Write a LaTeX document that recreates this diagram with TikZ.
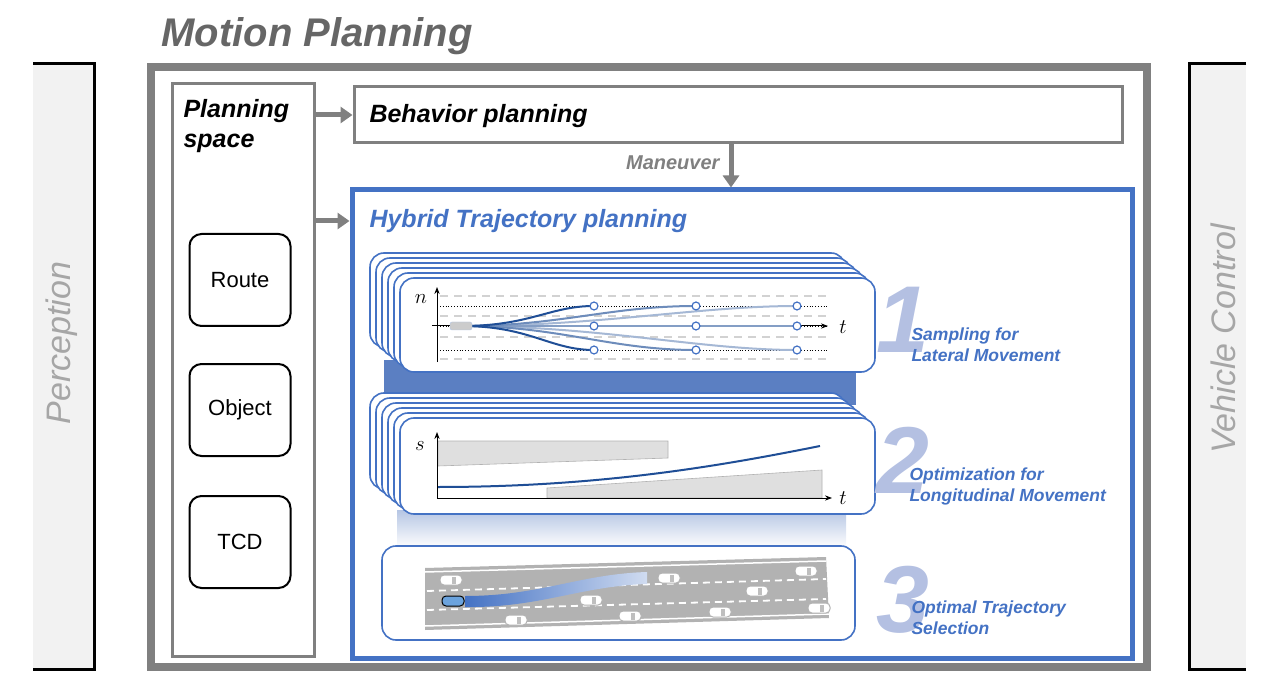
\documentclass[tikz,border=0pt]{standalone}
\usepackage{fontspec}
\setmainfont{Liberation Sans}
\usetikzlibrary{arrows.meta}
\definecolor{mpgray}{HTML}{808080}
\definecolor{hblue}{HTML}{4472C4}
\definecolor{dblue}{HTML}{1F4E96}
\definecolor{numblue}{HTML}{B4C0E2}
\definecolor{bandblue}{HTML}{5B7FC2}
\tikzset{
  grayarrow/.style={mpgray, line width=5pt, -{Triangle[length=12pt,width=16pt]}},
  itemnode/.style={draw, line width=2pt, rounded corners=12pt, minimum width=101pt, minimum height=92pt, font=\fontsize{22}{24}\selectfont},
  panel/.style={draw=hblue, line width=1.6pt, fill=white, rounded corners=14pt},
  steplabel/.style={text=hblue, font=\fontsize{17.5}{21}\selectfont\bfseries\itshape, align=left, anchor=west},
  stepnum/.style={text=numblue, font=\fontsize{95}{95}\selectfont\bfseries\itshape},
  sidelabel/.style={rotate=90, text=gray!70, font=\fontsize{34}{36}\selectfont\itshape},
  gridline/.style={gray!35, dashed, line width=1.5pt, dash pattern=on 8pt off 6pt},
  laneline/.style={black, dotted, line width=0.8pt},
  traj/.style={line width=2pt, dblue},
  knot/.style={circle, draw=hblue, fill=white, line width=1.2pt, inner sep=2.8pt},
}
\newcommand\roadcar[2]{\draw[fill=white, draw=gray!60, line width=1pt, rounded corners=4pt] (#1-11,#2-5) rectangle (#1+11,#2+5);
  \fill[gray!50] (#1+1,#2-3.5) rectangle (#1+5,#2+3.5);}
\begin{document}
\begin{tikzpicture}[x=1pt, y=-1pt]
  \useasboundingbox (0,0) rectangle (1271,692);

  % side blocks
  \fill[gray!10] (33,64) rectangle (94,669);
  \draw[line width=3pt] (33,64) -- (94,64) -- (94,669) -- (33,669);
  \node[sidelabel] (perc) at (62,343) {Perception};
  \fill[gray!10] (1189,64) rectangle (1246,669);
  \draw[line width=3pt] (1246,64) -- (1189,64) -- (1189,669) -- (1246,669);
  \node[sidelabel] (vc) at (1223,339) {Vehicle Control};

  % motion planning frame
  \node[text=gray!80!black, font=\fontsize{40}{42}\selectfont\bfseries\itshape, anchor=west] (title) at (158,36) {Motion Planning};
  \draw[mpgray, line width=8pt] (151,67) rectangle (1147,667);

  % planning space
  \node[draw=mpgray, line width=3pt, minimum width=142pt, minimum height=572pt] (ps) at (243,370) {};
  \node[font=\fontsize{25}{30}\selectfont\bfseries\itshape, align=left, anchor=north west] (pstext) at (180,96) {Planning\\space};
  \node[itemnode] (route) at (240,280) {Route};
  \node[itemnode] (obj) at (240,410) {Object};
  \node[itemnode] (tcd) at (240,542) {TCD};

  % behavior planning
  \node[draw=mpgray, line width=3pt, minimum width=768pt, minimum height=56pt] (beh) at (738,115) {};
  \node[font=\fontsize{25}{28}\selectfont\bfseries\itshape, anchor=west] (behtext) at (366,116) {Behavior planning};

  % hybrid trajectory planning
  \node[draw=hblue, line width=5pt, minimum width=780pt, minimum height=468pt] (hyb) at (742,424) {};
  \node[text=hblue, font=\fontsize{25}{28}\selectfont\bfseries\itshape, anchor=west] (hybtext) at (366,221) {Hybrid Trajectory planning};

  \draw[grayarrow] (ps.east |- beh) -- (beh.west);
  \draw[grayarrow] (ps.east |- hybtext) -- (hybtext.west -| hyb.west);
  \draw[grayarrow] (beh.south -| 731,0) -- (hyb.north -| 731,0);
  \node[text=mpgray, font=\fontsize{20}{22}\selectfont\bfseries\itshape, anchor=east] (man) at (723,163) {Maneuver};

  % links between the steps
  \fill[bandblue] (384,360) rectangle (856,405);
  \shade[top color=bandblue!45, bottom color=white] (397,510) rectangle (846,548);

  % step 1 stack
  \foreach \k in {5,4,...,1}
    \draw[panel] (400-6*\k,278-5*\k) rectangle (875-6*\k,372-5*\k);
  \node[panel, minimum width=475pt, minimum height=94pt] (p1) at (637.5,325) {};
  \draw[gridline] (440,296) -- (828,296) (440,316) -- (828,316) (440,337) -- (828,337) (440,359) -- (828,359);
  \draw[laneline] (440,306) -- (828,306) (440,350) -- (828,350) (440,326) -- (828,326);
  \draw[-{Stealth[length=7pt]}, line width=1pt] (437,362) -- (437,287);
  \draw[-{Stealth[length=7pt]}, line width=1pt] (432,326) -- (828,326);
  \node[font=\fontsize{22}{22}\selectfont\itshape] (nlab) at (421,299) {$n$};
  \node[font=\fontsize{22}{22}\selectfont\itshape] (tlab) at (843,327) {$t$};
  \draw[traj, dblue!40] (462,326) .. controls (600,326) and (700,306) .. (797,306);
  \draw[traj, dblue!40] (462,326) .. controls (600,326) and (700,350) .. (797,350);
  \draw[traj, dblue!55] (462,326) -- (797,326);
  \draw[traj, dblue!65] (462,326) .. controls (560,326) and (610,306) .. (696,306);
  \draw[traj, dblue!65] (462,326) .. controls (560,326) and (610,350) .. (696,350);
  \draw[traj] (462,326) .. controls (530,326) and (550,306) .. (594,306);
  \draw[traj] (462,326) .. controls (530,326) and (550,350) .. (594,350);
  \draw[fill=gray!40, draw=hblue!40, rounded corners=2pt] (450,322) rectangle (472,330);
  \foreach \x in {594,696,797}
    \foreach \y in {306,326,350}
      \node[knot] at (\x,\y) {};
  \node[stepnum] (n1) at (903,320) {1};
  \node[steplabel] (l1) at (908,345) {Sampling for\\Lateral Movement};

  % step 2 stack
  \foreach \k in {5,4,...,1}
    \draw[panel] (400-6*\k,418-5*\k) rectangle (875-6*\k,514-5*\k);
  \node[panel, minimum width=475pt, minimum height=96pt] (p2) at (637.5,466) {};
  \fill[gray!25, draw=gray!60, line width=0.6pt] (438,441) -- (668,441) -- (668,458) -- (438,466) -- cycle;
  \fill[gray!25, draw=gray!60, line width=0.6pt] (547,498) -- (547,488) -- (822,470) -- (822,498) -- cycle;
  \draw[line width=2pt, dblue] (438,487) .. controls (600,487) and (720,466) .. (820,446);
  \draw[-{Stealth[length=7pt]}, line width=1pt] (437,498) -- (437,432);
  \draw[-{Stealth[length=7pt]}, line width=1pt] (437,498) -- (832,498);
  \node[font=\fontsize{22}{22}\selectfont\itshape] (slab) at (420,446) {$s$};
  \node[font=\fontsize{22}{22}\selectfont\itshape] (tlab2) at (843,498) {$t$};
  \node[stepnum] (n2) at (903,460) {2};
  \node[steplabel] (l2) at (906,486) {Optimization for\\Longitudinal Movement};

  % step 3
  \node[panel, minimum width=473pt, minimum height=94pt] (p3) at (618.5,593) {};
  \fill[gray!60] (425,568) -- (826,557) -- (829,618) -- (425,630) -- cycle;
  \draw[white, line width=1.5pt] (425,572) -- (826,561) (425,626) -- (829,614);
  \draw[white, line width=1.8pt, dash pattern=on 7pt off 5pt] (427,591) -- (826,579) (427,610) -- (826,599);
  \shade[left color=hblue, right color=hblue!25] (465,596) .. controls (540,596) and (580,574) .. (647,572) -- (647,584) .. controls (580,586) and (540,608) .. (465,607) -- cycle;
  \draw[fill=cyan!60!blue!60, draw=black, line width=1pt, rounded corners=4pt] (442,596) rectangle (464,606);
  \roadcar{451}{580}
  \roadcar{516}{620}
  \roadcar{591}{600}
  \roadcar{630}{616}
  \roadcar{669}{578}
  \roadcar{720}{612}
  \roadcar{757}{591}
  \roadcar{806}{571}
  \roadcar{819}{608}
  \node[stepnum] (n3) at (903,600) {3};
  \node[steplabel] (l3) at (908,618) {Optimal Trajectory\\Selection};
\end{tikzpicture}
\end{document}
